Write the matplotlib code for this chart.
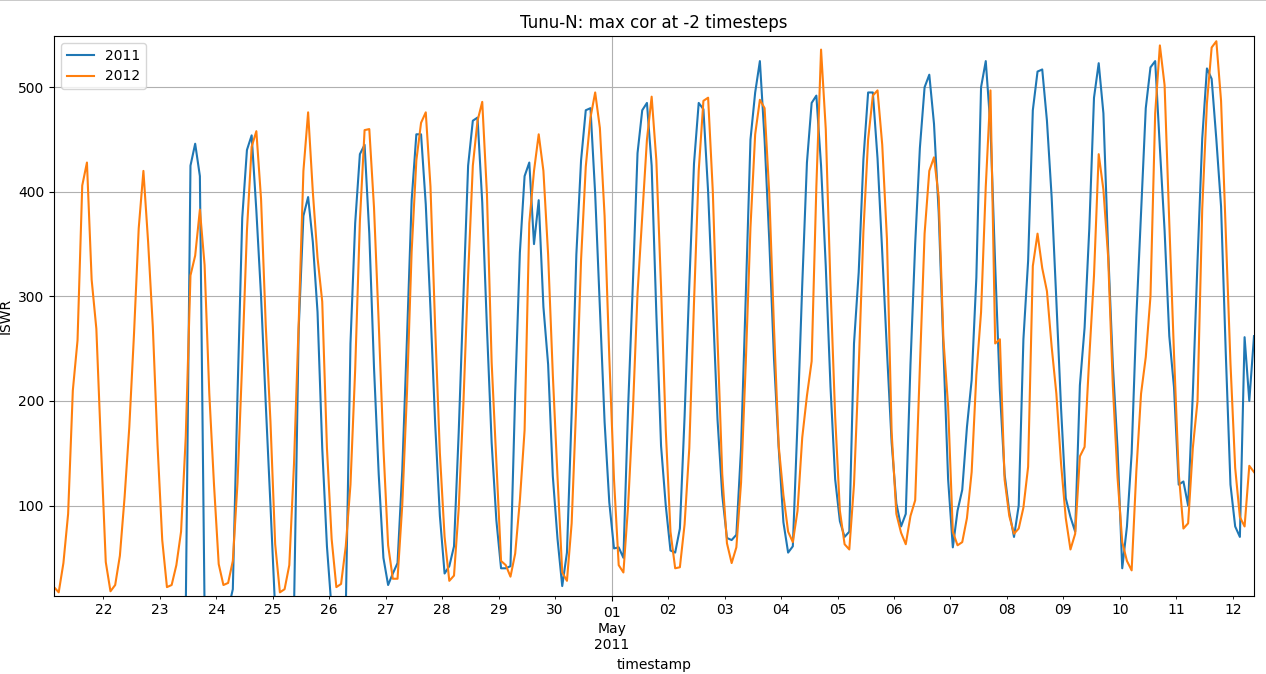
import numpy as np
import pandas as pd
import matplotlib
matplotlib.use('Agg')
import matplotlib.pyplot as plt
import matplotlib.dates as mdates
from matplotlib.lines import Line2D

# ------------------------------------------
# Data: ISWR at Tunu-N, one value every 2 hours
# ------------------------------------------

start_time = '2011-04-21 03:00'
step = '2h'
nan = np.nan

# one line per day
iswr_2011 = [
    nan, nan, nan, nan, nan, nan, nan, nan, nan, nan, nan,
    nan, nan, nan, nan, nan, nan, nan, nan, nan, nan, nan, nan,
    nan, nan, nan, nan, nan, 0, 425, 446, 415, 0, 0, 0,
    0, 0, 0, 20, 207, 375, 440, 454, 382, 300, 197, 100,
    0, 0, 0, 0, 0, 269, 377, 395, 352, 285, 155, 61,
    0, 0, 0, 0, 255, 370, 436, 445, 360, 232, 130, 50,
    24, 35, 45, 133, 259, 392, 455, 455, 388, 288, 178, 90,
    35, 42, 61, 170, 300, 425, 468, 471, 390, 270, 160, 86,
    40, 40, 42, 207, 342, 415, 428, 350, 392, 290, 235, 128,
    68, 23, 55, 188, 340, 430, 478, 480, 398, 288, 180, 103,
    59, 60, 50, 194, 311, 437, 478, 485, 425, 283, 157, 100,
    57, 55, 78, 185, 311, 427, 485, 479, 400, 292, 182, 110,
    69, 67, 72, 155, 300, 450, 495, 525, 450, 353, 240, 155,
    84, 55, 61, 180, 311, 428, 485, 492, 425, 329, 214, 125,
    85, 70, 75, 255, 323, 431, 495, 495, 432, 342, 248, 160,
    102, 80, 92, 235, 350, 442, 500, 512, 465, 380, 250, 125,
    60, 95, 115, 175, 220, 318, 500, 525, 462, 330, 210, 130,
    94, 70, 100, 259, 334, 478, 515, 517, 468, 395, 296, 193,
    107, 89, 75, 215, 270, 365, 490, 523, 475, 345, 235, 155,
    40, 80, 150, 280, 380, 480, 519, 525, 442, 363, 262, 213,
    120, 123, 100, 207, 334, 451, 518, 508, 450, 386, 246, 120,
    80, 70, 261, 200, 262,
]

iswr_2012 = [
    22, 17, 45, 92, 210, 258, 406, 428, 316, 269, 155,
    46, 18, 24, 52, 108, 175, 264, 365, 420, 352, 271, 158,
    67, 22, 24, 43, 75, 166, 320, 339, 383, 330, 207, 120,
    44, 24, 26, 47, 122, 238, 363, 443, 458, 393, 272, 180,
    63, 17, 20, 43, 140, 275, 420, 476, 400, 337, 295, 155,
    68, 22, 25, 61, 120, 230, 372, 459, 460, 385, 275, 155,
    62, 30, 30, 100, 207, 343, 430, 466, 476, 405, 270, 150,
    70, 28, 33, 97, 198, 320, 425, 468, 486, 398, 237, 143,
    47, 43, 32, 54, 105, 172, 370, 420, 455, 420, 340, 225,
    127, 36, 28, 83, 199, 335, 424, 471, 495, 461, 377, 242,
    125, 43, 36, 100, 189, 303, 377, 450, 491, 430, 308, 172,
    75, 40, 41, 82, 155, 294, 420, 487, 490, 400, 259, 130,
    64, 45, 60, 122, 236, 366, 455, 488, 480, 398, 270, 157,
    110, 75, 65, 95, 165, 205, 238, 405, 536, 460, 310, 185,
    95, 63, 58, 120, 232, 362, 450, 492, 497, 445, 355, 170,
    92, 74, 63, 90, 105, 232, 360, 420, 433, 395, 259, 195,
    75, 62, 65, 88, 132, 225, 285, 405, 497, 255, 259, 125,
    90, 73, 78, 98, 137, 329, 360, 327, 305, 252, 207, 140,
    88, 58, 73, 147, 156, 242, 320, 436, 402, 338, 215, 127,
    65, 47, 38, 133, 207, 242, 300, 475, 540, 502, 370, 245,
    131, 78, 83, 155, 200, 384, 485, 538, 544, 487, 360, 236,
    136, 89, 80, 138, 132,
]

series_labels = ['2011', '2012']

timestamps = pd.date_range(start_time, periods=len(iswr_2012), freq=step)

# ------------------------------------------
# Plot
# ------------------------------------------

fig = plt.figure(figsize=(12.66, 6.74), dpi=100)
ax = fig.add_axes([54/1266, 78/674, 1200/1266, 560/674])

ax.plot(timestamps, iswr_2011, color='#1f77b4', label=series_labels[0])
ax.plot(timestamps, iswr_2012, color='#ff7f0e', label=series_labels[1])

ax.set_xlim(timestamps[0], timestamps[-1])
ax.set_ylim(13.5, 549)

ax.xaxis.set_major_locator(mdates.MonthLocator())
ax.xaxis.set_major_formatter(mdates.DateFormatter('%d\n%b\n%Y'))
ax.xaxis.set_minor_locator(mdates.DayLocator())
ax.xaxis.set_minor_formatter(mdates.DateFormatter('%d'))

ax.grid(True)
ax.set_xlabel('timestamp')
ax.set_ylabel('ISWR')
ax.set_title('Tunu-N: max cor at -2 timesteps')
ax.legend(loc='upper left')

# thin grey rule at the very top of the image
fig.add_artist(Line2D([0, 1], [0.9995, 0.9995], transform=fig.transFigure,
                      color='#c0c0c0', lw=1.2))

fig.savefig('out.png', dpi=100)
